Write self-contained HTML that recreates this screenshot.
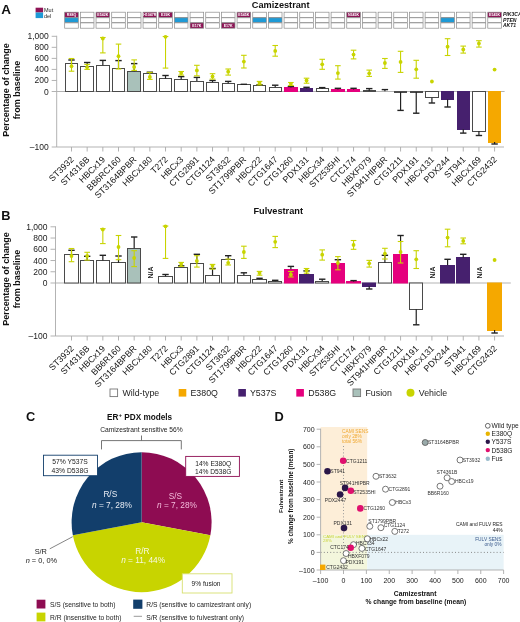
<!DOCTYPE html>
<html><head><meta charset="utf-8"><style>
html,body{margin:0;padding:0;background:#fff;}
body{width:520px;height:622px;overflow:hidden;font-family:"Liberation Sans", sans-serif;}
svg{display:block;filter:blur(0.3px);}
</style></head><body>
<svg width="520" height="622" viewBox="0 0 520 622" font-family='"Liberation Sans", sans-serif'>
<rect width="520" height="622" fill="#fff"/>
<text x="1.20" y="13.80" font-size="13.5" text-anchor="start" font-weight="bold" fill="#111">A</text>
<rect x="35.6" y="7.7" width="7.5" height="4.8" fill="#8e1456"/>
<rect x="35.6" y="12.5" width="7.5" height="5.6" fill="#1e9ad6"/>
<text x="44.00" y="12.10" font-size="5.5" text-anchor="start" fill="#222">Mut</text>
<text x="44.00" y="17.90" font-size="5.5" text-anchor="start" fill="#222">del</text>
<rect x="64.70" y="12.20" width="13.6" height="5.30" fill="#8e1456" stroke="#8a8a8a" stroke-width="0.7"/>
<text x="71.50" y="16.20" font-size="3.6" font-weight="bold" text-anchor="middle" fill="#fff">R88Q</text>
<rect x="64.70" y="17.80" width="13.6" height="4.80" fill="#1e9ad6" stroke="#8a8a8a" stroke-width="0.7"/>
<rect x="64.70" y="22.90" width="13.6" height="5.30" fill="#fff" stroke="#8a8a8a" stroke-width="0.7"/>
<rect x="80.37" y="12.20" width="13.6" height="5.30" fill="#fff" stroke="#8a8a8a" stroke-width="0.7"/>
<rect x="80.37" y="17.80" width="13.6" height="4.80" fill="#fff" stroke="#8a8a8a" stroke-width="0.7"/>
<rect x="80.37" y="22.90" width="13.6" height="5.30" fill="#fff" stroke="#8a8a8a" stroke-width="0.7"/>
<rect x="96.04" y="12.20" width="13.6" height="5.30" fill="#8e1456" stroke="#8a8a8a" stroke-width="0.7"/>
<text x="102.84" y="16.20" font-size="3.6" font-weight="bold" text-anchor="middle" fill="#fff">E542K</text>
<rect x="96.04" y="17.80" width="13.6" height="4.80" fill="#fff" stroke="#8a8a8a" stroke-width="0.7"/>
<rect x="96.04" y="22.90" width="13.6" height="5.30" fill="#fff" stroke="#8a8a8a" stroke-width="0.7"/>
<rect x="111.71" y="12.20" width="13.6" height="5.30" fill="#fff" stroke="#8a8a8a" stroke-width="0.7"/>
<rect x="111.71" y="17.80" width="13.6" height="4.80" fill="#fff" stroke="#8a8a8a" stroke-width="0.7"/>
<rect x="111.71" y="22.90" width="13.6" height="5.30" fill="#fff" stroke="#8a8a8a" stroke-width="0.7"/>
<rect x="127.38" y="12.20" width="13.6" height="5.30" fill="#fff" stroke="#8a8a8a" stroke-width="0.7"/>
<rect x="127.38" y="17.80" width="13.6" height="4.80" fill="#fff" stroke="#8a8a8a" stroke-width="0.7"/>
<rect x="127.38" y="22.90" width="13.6" height="5.30" fill="#fff" stroke="#8a8a8a" stroke-width="0.7"/>
<rect x="143.05" y="12.20" width="13.6" height="5.30" fill="#8e1456" stroke="#8a8a8a" stroke-width="0.7"/>
<text x="149.85" y="16.20" font-size="3.6" font-weight="bold" text-anchor="middle" fill="#fff">H1047R</text>
<rect x="143.05" y="17.80" width="13.6" height="4.80" fill="#fff" stroke="#8a8a8a" stroke-width="0.7"/>
<rect x="143.05" y="22.90" width="13.6" height="5.30" fill="#fff" stroke="#8a8a8a" stroke-width="0.7"/>
<rect x="158.72" y="12.20" width="13.6" height="5.30" fill="#8e1456" stroke="#8a8a8a" stroke-width="0.7"/>
<text x="165.52" y="16.20" font-size="3.6" font-weight="bold" text-anchor="middle" fill="#fff">E39K</text>
<rect x="158.72" y="17.80" width="13.6" height="4.80" fill="#fff" stroke="#8a8a8a" stroke-width="0.7"/>
<rect x="158.72" y="22.90" width="13.6" height="5.30" fill="#fff" stroke="#8a8a8a" stroke-width="0.7"/>
<rect x="174.39" y="12.20" width="13.6" height="5.30" fill="#fff" stroke="#8a8a8a" stroke-width="0.7"/>
<rect x="174.39" y="17.80" width="13.6" height="4.80" fill="#1e9ad6" stroke="#8a8a8a" stroke-width="0.7"/>
<rect x="174.39" y="22.90" width="13.6" height="5.30" fill="#fff" stroke="#8a8a8a" stroke-width="0.7"/>
<rect x="190.06" y="12.20" width="13.6" height="5.30" fill="#fff" stroke="#8a8a8a" stroke-width="0.7"/>
<rect x="190.06" y="17.80" width="13.6" height="4.80" fill="#fff" stroke="#8a8a8a" stroke-width="0.7"/>
<rect x="190.06" y="22.90" width="13.6" height="5.30" fill="#8e1456" stroke="#8a8a8a" stroke-width="0.7"/>
<text x="196.86" y="26.90" font-size="3.6" font-weight="bold" text-anchor="middle" fill="#fff">E17K</text>
<rect x="205.73" y="12.20" width="13.6" height="5.30" fill="#fff" stroke="#8a8a8a" stroke-width="0.7"/>
<rect x="205.73" y="17.80" width="13.6" height="4.80" fill="#fff" stroke="#8a8a8a" stroke-width="0.7"/>
<rect x="205.73" y="22.90" width="13.6" height="5.30" fill="#fff" stroke="#8a8a8a" stroke-width="0.7"/>
<rect x="221.40" y="12.20" width="13.6" height="5.30" fill="#fff" stroke="#8a8a8a" stroke-width="0.7"/>
<rect x="221.40" y="17.80" width="13.6" height="4.80" fill="#fff" stroke="#8a8a8a" stroke-width="0.7"/>
<rect x="221.40" y="22.90" width="13.6" height="5.30" fill="#8e1456" stroke="#8a8a8a" stroke-width="0.7"/>
<text x="228.20" y="26.90" font-size="3.6" font-weight="bold" text-anchor="middle" fill="#fff">E17K</text>
<rect x="237.07" y="12.20" width="13.6" height="5.30" fill="#8e1456" stroke="#8a8a8a" stroke-width="0.7"/>
<text x="243.87" y="16.20" font-size="3.6" font-weight="bold" text-anchor="middle" fill="#fff">E545K</text>
<rect x="237.07" y="17.80" width="13.6" height="4.80" fill="#fff" stroke="#8a8a8a" stroke-width="0.7"/>
<rect x="237.07" y="22.90" width="13.6" height="5.30" fill="#fff" stroke="#8a8a8a" stroke-width="0.7"/>
<rect x="252.74" y="12.20" width="13.6" height="5.30" fill="#fff" stroke="#8a8a8a" stroke-width="0.7"/>
<rect x="252.74" y="17.80" width="13.6" height="4.80" fill="#1e9ad6" stroke="#8a8a8a" stroke-width="0.7"/>
<rect x="252.74" y="22.90" width="13.6" height="5.30" fill="#fff" stroke="#8a8a8a" stroke-width="0.7"/>
<rect x="268.41" y="12.20" width="13.6" height="5.30" fill="#fff" stroke="#8a8a8a" stroke-width="0.7"/>
<rect x="268.41" y="17.80" width="13.6" height="4.80" fill="#1e9ad6" stroke="#8a8a8a" stroke-width="0.7"/>
<rect x="268.41" y="22.90" width="13.6" height="5.30" fill="#fff" stroke="#8a8a8a" stroke-width="0.7"/>
<rect x="284.08" y="12.20" width="13.6" height="5.30" fill="#fff" stroke="#8a8a8a" stroke-width="0.7"/>
<rect x="284.08" y="17.80" width="13.6" height="4.80" fill="#fff" stroke="#8a8a8a" stroke-width="0.7"/>
<rect x="284.08" y="22.90" width="13.6" height="5.30" fill="#fff" stroke="#8a8a8a" stroke-width="0.7"/>
<rect x="299.75" y="12.20" width="13.6" height="5.30" fill="#fff" stroke="#8a8a8a" stroke-width="0.7"/>
<rect x="299.75" y="17.80" width="13.6" height="4.80" fill="#fff" stroke="#8a8a8a" stroke-width="0.7"/>
<rect x="299.75" y="22.90" width="13.6" height="5.30" fill="#fff" stroke="#8a8a8a" stroke-width="0.7"/>
<rect x="315.42" y="12.20" width="13.6" height="5.30" fill="#fff" stroke="#8a8a8a" stroke-width="0.7"/>
<rect x="315.42" y="17.80" width="13.6" height="4.80" fill="#fff" stroke="#8a8a8a" stroke-width="0.7"/>
<rect x="315.42" y="22.90" width="13.6" height="5.30" fill="#fff" stroke="#8a8a8a" stroke-width="0.7"/>
<rect x="331.09" y="12.20" width="13.6" height="5.30" fill="#fff" stroke="#8a8a8a" stroke-width="0.7"/>
<rect x="331.09" y="17.80" width="13.6" height="4.80" fill="#fff" stroke="#8a8a8a" stroke-width="0.7"/>
<rect x="331.09" y="22.90" width="13.6" height="5.30" fill="#fff" stroke="#8a8a8a" stroke-width="0.7"/>
<rect x="346.76" y="12.20" width="13.6" height="5.30" fill="#8e1456" stroke="#8a8a8a" stroke-width="0.7"/>
<text x="353.56" y="16.20" font-size="3.6" font-weight="bold" text-anchor="middle" fill="#fff">N345K</text>
<rect x="346.76" y="17.80" width="13.6" height="4.80" fill="#fff" stroke="#8a8a8a" stroke-width="0.7"/>
<rect x="346.76" y="22.90" width="13.6" height="5.30" fill="#fff" stroke="#8a8a8a" stroke-width="0.7"/>
<rect x="362.43" y="12.20" width="13.6" height="5.30" fill="#fff" stroke="#8a8a8a" stroke-width="0.7"/>
<rect x="362.43" y="17.80" width="13.6" height="4.80" fill="#fff" stroke="#8a8a8a" stroke-width="0.7"/>
<rect x="362.43" y="22.90" width="13.6" height="5.30" fill="#fff" stroke="#8a8a8a" stroke-width="0.7"/>
<rect x="378.10" y="12.20" width="13.6" height="5.30" fill="#fff" stroke="#8a8a8a" stroke-width="0.7"/>
<rect x="378.10" y="17.80" width="13.6" height="4.80" fill="#fff" stroke="#8a8a8a" stroke-width="0.7"/>
<rect x="378.10" y="22.90" width="13.6" height="5.30" fill="#fff" stroke="#8a8a8a" stroke-width="0.7"/>
<rect x="393.77" y="12.20" width="13.6" height="5.30" fill="#fff" stroke="#8a8a8a" stroke-width="0.7"/>
<rect x="393.77" y="17.80" width="13.6" height="4.80" fill="#fff" stroke="#8a8a8a" stroke-width="0.7"/>
<rect x="393.77" y="22.90" width="13.6" height="5.30" fill="#fff" stroke="#8a8a8a" stroke-width="0.7"/>
<rect x="409.44" y="12.20" width="13.6" height="5.30" fill="#fff" stroke="#8a8a8a" stroke-width="0.7"/>
<rect x="409.44" y="17.80" width="13.6" height="4.80" fill="#fff" stroke="#8a8a8a" stroke-width="0.7"/>
<rect x="409.44" y="22.90" width="13.6" height="5.30" fill="#fff" stroke="#8a8a8a" stroke-width="0.7"/>
<rect x="425.11" y="12.20" width="13.6" height="5.30" fill="#fff" stroke="#8a8a8a" stroke-width="0.7"/>
<rect x="425.11" y="17.80" width="13.6" height="4.80" fill="#fff" stroke="#8a8a8a" stroke-width="0.7"/>
<rect x="425.11" y="22.90" width="13.6" height="5.30" fill="#fff" stroke="#8a8a8a" stroke-width="0.7"/>
<rect x="440.78" y="12.20" width="13.6" height="5.30" fill="#fff" stroke="#8a8a8a" stroke-width="0.7"/>
<rect x="440.78" y="17.80" width="13.6" height="4.80" fill="#1e9ad6" stroke="#8a8a8a" stroke-width="0.7"/>
<rect x="440.78" y="22.90" width="13.6" height="5.30" fill="#fff" stroke="#8a8a8a" stroke-width="0.7"/>
<rect x="456.45" y="12.20" width="13.6" height="5.30" fill="#fff" stroke="#8a8a8a" stroke-width="0.7"/>
<rect x="456.45" y="17.80" width="13.6" height="4.80" fill="#fff" stroke="#8a8a8a" stroke-width="0.7"/>
<rect x="456.45" y="22.90" width="13.6" height="5.30" fill="#fff" stroke="#8a8a8a" stroke-width="0.7"/>
<rect x="472.12" y="12.20" width="13.6" height="5.30" fill="#fff" stroke="#8a8a8a" stroke-width="0.7"/>
<rect x="472.12" y="17.80" width="13.6" height="4.80" fill="#fff" stroke="#8a8a8a" stroke-width="0.7"/>
<rect x="472.12" y="22.90" width="13.6" height="5.30" fill="#fff" stroke="#8a8a8a" stroke-width="0.7"/>
<rect x="487.79" y="12.20" width="13.6" height="5.30" fill="#8e1456" stroke="#8a8a8a" stroke-width="0.7"/>
<text x="494.59" y="16.20" font-size="3.6" font-weight="bold" text-anchor="middle" fill="#fff">E545K</text>
<rect x="487.79" y="17.80" width="13.6" height="4.80" fill="#fff" stroke="#8a8a8a" stroke-width="0.7"/>
<rect x="487.79" y="22.90" width="13.6" height="5.30" fill="#fff" stroke="#8a8a8a" stroke-width="0.7"/>
<text x="502.9" y="16.0" font-size="5.1" font-weight="bold" font-style="italic" fill="#111">PIK3CA</text>
<text x="502.9" y="21.6" font-size="5.1" font-weight="bold" font-style="italic" fill="#111">PTEN</text>
<text x="502.9" y="27.3" font-size="5.1" font-weight="bold" font-style="italic" fill="#111">AKT1</text>
<line x1="56.7" y1="35.8" x2="56.7" y2="147.0" stroke="#aaa" stroke-width="0.9"/>
<line x1="51.7" y1="36.30" x2="56.7" y2="36.30" stroke="#aaa" stroke-width="0.9"/>
<text x="48.70" y="39.30" font-size="8.5" text-anchor="end" fill="#222">1,000</text>
<line x1="51.7" y1="47.34" x2="56.7" y2="47.34" stroke="#aaa" stroke-width="0.9"/>
<text x="48.70" y="50.34" font-size="8.5" text-anchor="end" fill="#222">800</text>
<line x1="51.7" y1="58.38" x2="56.7" y2="58.38" stroke="#aaa" stroke-width="0.9"/>
<text x="48.70" y="61.38" font-size="8.5" text-anchor="end" fill="#222">600</text>
<line x1="51.7" y1="69.42" x2="56.7" y2="69.42" stroke="#aaa" stroke-width="0.9"/>
<text x="48.70" y="72.42" font-size="8.5" text-anchor="end" fill="#222">400</text>
<line x1="51.7" y1="80.46" x2="56.7" y2="80.46" stroke="#aaa" stroke-width="0.9"/>
<text x="48.70" y="83.46" font-size="8.5" text-anchor="end" fill="#222">200</text>
<line x1="51.7" y1="91.50" x2="56.7" y2="91.50" stroke="#aaa" stroke-width="0.9"/>
<text x="48.70" y="94.50" font-size="8.5" text-anchor="end" fill="#222">0</text>
<line x1="51.7" y1="147.0" x2="56.7" y2="147.0" stroke="#aaa" stroke-width="0.9"/>
<text x="48.70" y="150.00" font-size="8.5" text-anchor="end" fill="#222">–100</text>
<line x1="56.7" y1="91.5" x2="504.6" y2="91.5" stroke="#aaa" stroke-width="0.9"/>
<line x1="56.7" y1="147.0" x2="504" y2="147.0" stroke="#aaa" stroke-width="0.9"/>
<line x1="71.50" y1="147.0" x2="71.50" y2="151.5" stroke="#aaa" stroke-width="0.9"/>
<line x1="87.17" y1="147.0" x2="87.17" y2="151.5" stroke="#aaa" stroke-width="0.9"/>
<line x1="102.84" y1="147.0" x2="102.84" y2="151.5" stroke="#aaa" stroke-width="0.9"/>
<line x1="118.51" y1="147.0" x2="118.51" y2="151.5" stroke="#aaa" stroke-width="0.9"/>
<line x1="134.18" y1="147.0" x2="134.18" y2="151.5" stroke="#aaa" stroke-width="0.9"/>
<line x1="149.85" y1="147.0" x2="149.85" y2="151.5" stroke="#aaa" stroke-width="0.9"/>
<line x1="165.52" y1="147.0" x2="165.52" y2="151.5" stroke="#aaa" stroke-width="0.9"/>
<line x1="181.19" y1="147.0" x2="181.19" y2="151.5" stroke="#aaa" stroke-width="0.9"/>
<line x1="196.86" y1="147.0" x2="196.86" y2="151.5" stroke="#aaa" stroke-width="0.9"/>
<line x1="212.53" y1="147.0" x2="212.53" y2="151.5" stroke="#aaa" stroke-width="0.9"/>
<line x1="228.20" y1="147.0" x2="228.20" y2="151.5" stroke="#aaa" stroke-width="0.9"/>
<line x1="243.87" y1="147.0" x2="243.87" y2="151.5" stroke="#aaa" stroke-width="0.9"/>
<line x1="259.54" y1="147.0" x2="259.54" y2="151.5" stroke="#aaa" stroke-width="0.9"/>
<line x1="275.21" y1="147.0" x2="275.21" y2="151.5" stroke="#aaa" stroke-width="0.9"/>
<line x1="290.88" y1="147.0" x2="290.88" y2="151.5" stroke="#aaa" stroke-width="0.9"/>
<line x1="306.55" y1="147.0" x2="306.55" y2="151.5" stroke="#aaa" stroke-width="0.9"/>
<line x1="322.22" y1="147.0" x2="322.22" y2="151.5" stroke="#aaa" stroke-width="0.9"/>
<line x1="337.89" y1="147.0" x2="337.89" y2="151.5" stroke="#aaa" stroke-width="0.9"/>
<line x1="353.56" y1="147.0" x2="353.56" y2="151.5" stroke="#aaa" stroke-width="0.9"/>
<line x1="369.23" y1="147.0" x2="369.23" y2="151.5" stroke="#aaa" stroke-width="0.9"/>
<line x1="384.90" y1="147.0" x2="384.90" y2="151.5" stroke="#aaa" stroke-width="0.9"/>
<line x1="400.57" y1="147.0" x2="400.57" y2="151.5" stroke="#aaa" stroke-width="0.9"/>
<line x1="416.24" y1="147.0" x2="416.24" y2="151.5" stroke="#aaa" stroke-width="0.9"/>
<line x1="431.91" y1="147.0" x2="431.91" y2="151.5" stroke="#aaa" stroke-width="0.9"/>
<line x1="447.58" y1="147.0" x2="447.58" y2="151.5" stroke="#aaa" stroke-width="0.9"/>
<line x1="463.25" y1="147.0" x2="463.25" y2="151.5" stroke="#aaa" stroke-width="0.9"/>
<line x1="478.92" y1="147.0" x2="478.92" y2="151.5" stroke="#aaa" stroke-width="0.9"/>
<line x1="494.59" y1="147.0" x2="494.59" y2="151.5" stroke="#aaa" stroke-width="0.9"/>
<rect x="65.50" y="63.50" width="12.00" height="28.00" fill="#ffffff" stroke="#4a4a4a" stroke-width="1"/>
<line x1="71.50" y1="63.10" x2="71.50" y2="60.00" stroke="#222" stroke-width="1.2"/>
<line x1="68.30" y1="60.00" x2="74.70" y2="60.00" stroke="#222" stroke-width="1.4"/>
<rect x="80.50" y="66.50" width="13.00" height="25.00" fill="#ffffff" stroke="#4a4a4a" stroke-width="1"/>
<line x1="87.17" y1="66.20" x2="87.17" y2="62.50" stroke="#222" stroke-width="1.2"/>
<line x1="83.97" y1="62.50" x2="90.37" y2="62.50" stroke="#222" stroke-width="1.4"/>
<rect x="96.50" y="65.50" width="13.00" height="26.00" fill="#ffffff" stroke="#4a4a4a" stroke-width="1"/>
<line x1="102.84" y1="65.20" x2="102.84" y2="60.40" stroke="#222" stroke-width="1.2"/>
<line x1="99.64" y1="60.40" x2="106.04" y2="60.40" stroke="#222" stroke-width="1.4"/>
<rect x="112.50" y="68.50" width="12.00" height="23.00" fill="#ffffff" stroke="#4a4a4a" stroke-width="1"/>
<line x1="118.51" y1="68.10" x2="118.51" y2="60.60" stroke="#222" stroke-width="1.2"/>
<line x1="115.31" y1="60.60" x2="121.71" y2="60.60" stroke="#222" stroke-width="1.4"/>
<rect x="127.50" y="71.50" width="13.00" height="20.00" fill="#a9c1ba" stroke="#4a4a4a" stroke-width="1"/>
<line x1="134.18" y1="71.30" x2="134.18" y2="63.60" stroke="#222" stroke-width="1.2"/>
<line x1="130.98" y1="63.60" x2="137.38" y2="63.60" stroke="#222" stroke-width="1.4"/>
<rect x="143.50" y="73.50" width="13.00" height="18.00" fill="#ffffff" stroke="#4a4a4a" stroke-width="1"/>
<line x1="149.85" y1="73.30" x2="149.85" y2="72.20" stroke="#222" stroke-width="1.2"/>
<line x1="146.65" y1="72.20" x2="153.05" y2="72.20" stroke="#222" stroke-width="1.4"/>
<rect x="159.50" y="78.50" width="12.00" height="13.00" fill="#ffffff" stroke="#4a4a4a" stroke-width="1"/>
<line x1="165.52" y1="78.70" x2="165.52" y2="75.50" stroke="#222" stroke-width="1.2"/>
<line x1="162.32" y1="75.50" x2="168.72" y2="75.50" stroke="#222" stroke-width="1.4"/>
<rect x="174.50" y="79.50" width="13.00" height="12.00" fill="#ffffff" stroke="#4a4a4a" stroke-width="1"/>
<line x1="181.19" y1="79.40" x2="181.19" y2="76.60" stroke="#222" stroke-width="1.2"/>
<line x1="177.99" y1="76.60" x2="184.39" y2="76.60" stroke="#222" stroke-width="1.4"/>
<rect x="190.50" y="81.50" width="13.00" height="10.00" fill="#ffffff" stroke="#4a4a4a" stroke-width="1"/>
<line x1="196.86" y1="81.10" x2="196.86" y2="77.40" stroke="#222" stroke-width="1.2"/>
<line x1="193.66" y1="77.40" x2="200.06" y2="77.40" stroke="#222" stroke-width="1.4"/>
<rect x="206.50" y="82.50" width="12.00" height="9.00" fill="#ffffff" stroke="#4a4a4a" stroke-width="1"/>
<line x1="212.53" y1="82.20" x2="212.53" y2="80.50" stroke="#222" stroke-width="1.2"/>
<line x1="209.33" y1="80.50" x2="215.73" y2="80.50" stroke="#222" stroke-width="1.4"/>
<rect x="222.50" y="83.50" width="12.00" height="8.00" fill="#ffffff" stroke="#4a4a4a" stroke-width="1"/>
<line x1="228.20" y1="83.20" x2="228.20" y2="81.40" stroke="#222" stroke-width="1.2"/>
<line x1="225.00" y1="81.40" x2="231.40" y2="81.40" stroke="#222" stroke-width="1.4"/>
<rect x="237.50" y="84.50" width="13.00" height="7.00" fill="#ffffff" stroke="#4a4a4a" stroke-width="1"/>
<line x1="243.87" y1="84.90" x2="243.87" y2="84.30" stroke="#222" stroke-width="1.2"/>
<line x1="240.67" y1="84.30" x2="247.07" y2="84.30" stroke="#222" stroke-width="1.4"/>
<rect x="253.50" y="85.50" width="12.00" height="6.00" fill="#ffffff" stroke="#4a4a4a" stroke-width="1"/>
<line x1="259.54" y1="85.20" x2="259.54" y2="84.80" stroke="#222" stroke-width="1.2"/>
<line x1="256.34" y1="84.80" x2="262.74" y2="84.80" stroke="#222" stroke-width="1.4"/>
<rect x="269.50" y="87.50" width="12.00" height="4.00" fill="#ffffff" stroke="#4a4a4a" stroke-width="1"/>
<line x1="275.21" y1="87.20" x2="275.21" y2="85.20" stroke="#222" stroke-width="1.2"/>
<line x1="272.01" y1="85.20" x2="278.41" y2="85.20" stroke="#222" stroke-width="1.4"/>
<rect x="284.50" y="87.50" width="13.00" height="4.00" fill="#e5007d" stroke="#e5007d" stroke-width="1"/>
<line x1="290.88" y1="87.40" x2="290.88" y2="86.50" stroke="#222" stroke-width="1.2"/>
<line x1="287.68" y1="86.50" x2="294.08" y2="86.50" stroke="#222" stroke-width="1.4"/>
<rect x="300.50" y="88.50" width="12.00" height="3.00" fill="#46206e" stroke="#46206e" stroke-width="1"/>
<line x1="306.55" y1="88.50" x2="306.55" y2="87.30" stroke="#222" stroke-width="1.2"/>
<line x1="303.35" y1="87.30" x2="309.75" y2="87.30" stroke="#222" stroke-width="1.4"/>
<rect x="316.50" y="88.50" width="12.00" height="3.00" fill="#ffffff" stroke="#4a4a4a" stroke-width="1"/>
<line x1="322.22" y1="88.80" x2="322.22" y2="87.60" stroke="#222" stroke-width="1.2"/>
<line x1="319.02" y1="87.60" x2="325.42" y2="87.60" stroke="#222" stroke-width="1.4"/>
<rect x="331.50" y="89.50" width="13.00" height="2.00" fill="#e5007d" stroke="#e5007d" stroke-width="1"/>
<line x1="337.89" y1="89.50" x2="337.89" y2="88.30" stroke="#222" stroke-width="1.2"/>
<line x1="334.69" y1="88.30" x2="341.09" y2="88.30" stroke="#222" stroke-width="1.4"/>
<rect x="347.50" y="89.50" width="12.00" height="2.00" fill="#e5007d" stroke="#e5007d" stroke-width="1"/>
<line x1="353.56" y1="89.50" x2="353.56" y2="88.30" stroke="#222" stroke-width="1.2"/>
<line x1="350.36" y1="88.30" x2="356.76" y2="88.30" stroke="#222" stroke-width="1.4"/>
<rect x="363.50" y="90.50" width="12.00" height="1.00" fill="#ffffff" stroke="#4a4a4a" stroke-width="1"/>
<line x1="369.23" y1="91.00" x2="369.23" y2="88.60" stroke="#222" stroke-width="1.2"/>
<line x1="366.03" y1="88.60" x2="372.43" y2="88.60" stroke="#222" stroke-width="1.4"/>
<line x1="384.90" y1="91.20" x2="384.90" y2="89.60" stroke="#222" stroke-width="1.2"/>
<line x1="381.70" y1="89.60" x2="388.10" y2="89.60" stroke="#222" stroke-width="1.4"/>
<rect x="394.50" y="91.50" width="12.00" height="1.00" fill="#ffffff" stroke="#4a4a4a" stroke-width="1"/>
<line x1="400.57" y1="92.00" x2="400.57" y2="110.40" stroke="#222" stroke-width="1.2"/>
<line x1="397.37" y1="110.40" x2="403.77" y2="110.40" stroke="#222" stroke-width="1.4"/>
<rect x="410.50" y="91.50" width="12.00" height="1.00" fill="#ffffff" stroke="#4a4a4a" stroke-width="1"/>
<line x1="416.24" y1="92.00" x2="416.24" y2="113.20" stroke="#222" stroke-width="1.2"/>
<line x1="413.04" y1="113.20" x2="419.44" y2="113.20" stroke="#222" stroke-width="1.4"/>
<rect x="425.50" y="91.50" width="13.00" height="6.00" fill="#ffffff" stroke="#4a4a4a" stroke-width="1"/>
<line x1="431.91" y1="97.70" x2="431.91" y2="103.00" stroke="#222" stroke-width="1.2"/>
<line x1="428.71" y1="103.00" x2="435.11" y2="103.00" stroke="#222" stroke-width="1.4"/>
<rect x="441.50" y="91.50" width="12.00" height="8.00" fill="#46206e" stroke="#46206e" stroke-width="1"/>
<line x1="447.58" y1="99.40" x2="447.58" y2="107.00" stroke="#222" stroke-width="1.2"/>
<line x1="444.38" y1="107.00" x2="450.78" y2="107.00" stroke="#222" stroke-width="1.4"/>
<rect x="457.50" y="91.50" width="12.00" height="38.00" fill="#46206e" stroke="#46206e" stroke-width="1"/>
<line x1="463.25" y1="129.20" x2="463.25" y2="133.10" stroke="#222" stroke-width="1.2"/>
<line x1="460.05" y1="133.10" x2="466.45" y2="133.10" stroke="#222" stroke-width="1.4"/>
<rect x="472.50" y="91.50" width="13.00" height="40.00" fill="#ffffff" stroke="#4a4a4a" stroke-width="1"/>
<line x1="478.92" y1="131.10" x2="478.92" y2="135.50" stroke="#222" stroke-width="1.2"/>
<line x1="475.72" y1="135.50" x2="482.12" y2="135.50" stroke="#222" stroke-width="1.4"/>
<rect x="488.50" y="91.50" width="12.00" height="51.00" fill="#f5a800" stroke="#f5a800" stroke-width="1"/>
<line x1="494.59" y1="142.00" x2="494.59" y2="144.00" stroke="#222" stroke-width="1.2"/>
<line x1="491.39" y1="144.00" x2="497.79" y2="144.00" stroke="#222" stroke-width="1.4"/>
<line x1="71.50" y1="58.50" x2="71.50" y2="71.20" stroke="#c8d400" stroke-width="1.1"/>
<line x1="68.70" y1="58.50" x2="74.30" y2="58.50" stroke="#c8d400" stroke-width="1.1"/>
<line x1="68.70" y1="71.20" x2="74.30" y2="71.20" stroke="#c8d400" stroke-width="1.1"/>
<circle cx="71.50" cy="66.20" r="1.9" fill="#c8d400"/>
<line x1="87.17" y1="64.40" x2="87.17" y2="69.40" stroke="#c8d400" stroke-width="1.1"/>
<line x1="84.37" y1="64.40" x2="89.97" y2="64.40" stroke="#c8d400" stroke-width="1.1"/>
<line x1="84.37" y1="69.40" x2="89.97" y2="69.40" stroke="#c8d400" stroke-width="1.1"/>
<circle cx="87.17" cy="67.20" r="1.9" fill="#c8d400"/>
<line x1="102.84" y1="37.50" x2="102.84" y2="52.90" stroke="#c8d400" stroke-width="1.1"/>
<line x1="100.04" y1="37.50" x2="105.64" y2="37.50" stroke="#c8d400" stroke-width="1.1"/>
<line x1="100.04" y1="52.90" x2="105.64" y2="52.90" stroke="#c8d400" stroke-width="1.1"/>
<circle cx="102.84" cy="38.50" r="1.9" fill="#c8d400"/>
<line x1="118.51" y1="44.10" x2="118.51" y2="69.00" stroke="#c8d400" stroke-width="1.1"/>
<line x1="115.71" y1="44.10" x2="121.31" y2="44.10" stroke="#c8d400" stroke-width="1.1"/>
<line x1="115.71" y1="69.00" x2="121.31" y2="69.00" stroke="#c8d400" stroke-width="1.1"/>
<circle cx="118.51" cy="56.20" r="1.9" fill="#c8d400"/>
<line x1="134.18" y1="59.90" x2="134.18" y2="70.40" stroke="#c8d400" stroke-width="1.1"/>
<line x1="131.38" y1="59.90" x2="136.98" y2="59.90" stroke="#c8d400" stroke-width="1.1"/>
<line x1="131.38" y1="70.40" x2="136.98" y2="70.40" stroke="#c8d400" stroke-width="1.1"/>
<circle cx="134.18" cy="67.00" r="1.9" fill="#c8d400"/>
<line x1="149.85" y1="72.40" x2="149.85" y2="79.40" stroke="#c8d400" stroke-width="1.1"/>
<line x1="147.05" y1="72.40" x2="152.65" y2="72.40" stroke="#c8d400" stroke-width="1.1"/>
<line x1="147.05" y1="79.40" x2="152.65" y2="79.40" stroke="#c8d400" stroke-width="1.1"/>
<circle cx="149.85" cy="77.00" r="1.9" fill="#c8d400"/>
<line x1="165.52" y1="36.50" x2="165.52" y2="68.10" stroke="#c8d400" stroke-width="1.1"/>
<line x1="162.72" y1="36.50" x2="168.32" y2="36.50" stroke="#c8d400" stroke-width="1.1"/>
<line x1="162.72" y1="68.10" x2="168.32" y2="68.10" stroke="#c8d400" stroke-width="1.1"/>
<circle cx="165.52" cy="36.80" r="1.9" fill="#c8d400"/>
<line x1="181.19" y1="71.50" x2="181.19" y2="75.10" stroke="#c8d400" stroke-width="1.1"/>
<line x1="178.39" y1="71.50" x2="183.99" y2="71.50" stroke="#c8d400" stroke-width="1.1"/>
<line x1="178.39" y1="75.10" x2="183.99" y2="75.10" stroke="#c8d400" stroke-width="1.1"/>
<circle cx="181.19" cy="73.00" r="1.9" fill="#c8d400"/>
<line x1="196.86" y1="65.30" x2="196.86" y2="75.80" stroke="#c8d400" stroke-width="1.1"/>
<line x1="194.06" y1="65.30" x2="199.66" y2="65.30" stroke="#c8d400" stroke-width="1.1"/>
<line x1="194.06" y1="75.80" x2="199.66" y2="75.80" stroke="#c8d400" stroke-width="1.1"/>
<circle cx="196.86" cy="70.40" r="1.9" fill="#c8d400"/>
<line x1="212.53" y1="73.70" x2="212.53" y2="79.10" stroke="#c8d400" stroke-width="1.1"/>
<line x1="209.73" y1="73.70" x2="215.33" y2="73.70" stroke="#c8d400" stroke-width="1.1"/>
<line x1="209.73" y1="79.10" x2="215.33" y2="79.10" stroke="#c8d400" stroke-width="1.1"/>
<circle cx="212.53" cy="76.40" r="1.9" fill="#c8d400"/>
<line x1="228.20" y1="69.00" x2="228.20" y2="75.10" stroke="#c8d400" stroke-width="1.1"/>
<line x1="225.40" y1="69.00" x2="231.00" y2="69.00" stroke="#c8d400" stroke-width="1.1"/>
<line x1="225.40" y1="75.10" x2="231.00" y2="75.10" stroke="#c8d400" stroke-width="1.1"/>
<circle cx="228.20" cy="71.70" r="1.9" fill="#c8d400"/>
<line x1="243.87" y1="55.30" x2="243.87" y2="68.00" stroke="#c8d400" stroke-width="1.1"/>
<line x1="241.07" y1="55.30" x2="246.67" y2="55.30" stroke="#c8d400" stroke-width="1.1"/>
<line x1="241.07" y1="68.00" x2="246.67" y2="68.00" stroke="#c8d400" stroke-width="1.1"/>
<circle cx="243.87" cy="61.60" r="1.9" fill="#c8d400"/>
<line x1="259.54" y1="81.40" x2="259.54" y2="84.90" stroke="#c8d400" stroke-width="1.1"/>
<line x1="256.74" y1="81.40" x2="262.34" y2="81.40" stroke="#c8d400" stroke-width="1.1"/>
<line x1="256.74" y1="84.90" x2="262.34" y2="84.90" stroke="#c8d400" stroke-width="1.1"/>
<circle cx="259.54" cy="83.00" r="1.9" fill="#c8d400"/>
<line x1="275.21" y1="45.50" x2="275.21" y2="56.20" stroke="#c8d400" stroke-width="1.1"/>
<line x1="272.41" y1="45.50" x2="278.01" y2="45.50" stroke="#c8d400" stroke-width="1.1"/>
<line x1="272.41" y1="56.20" x2="278.01" y2="56.20" stroke="#c8d400" stroke-width="1.1"/>
<circle cx="275.21" cy="50.90" r="1.9" fill="#c8d400"/>
<line x1="290.88" y1="82.50" x2="290.88" y2="85.50" stroke="#c8d400" stroke-width="1.1"/>
<line x1="288.08" y1="82.50" x2="293.68" y2="82.50" stroke="#c8d400" stroke-width="1.1"/>
<line x1="288.08" y1="85.50" x2="293.68" y2="85.50" stroke="#c8d400" stroke-width="1.1"/>
<circle cx="290.88" cy="83.80" r="1.9" fill="#c8d400"/>
<line x1="306.55" y1="78.20" x2="306.55" y2="83.20" stroke="#c8d400" stroke-width="1.1"/>
<line x1="303.75" y1="78.20" x2="309.35" y2="78.20" stroke="#c8d400" stroke-width="1.1"/>
<line x1="303.75" y1="83.20" x2="309.35" y2="83.20" stroke="#c8d400" stroke-width="1.1"/>
<circle cx="306.55" cy="80.50" r="1.9" fill="#c8d400"/>
<line x1="322.22" y1="59.30" x2="322.22" y2="69.30" stroke="#c8d400" stroke-width="1.1"/>
<line x1="319.42" y1="59.30" x2="325.02" y2="59.30" stroke="#c8d400" stroke-width="1.1"/>
<line x1="319.42" y1="69.30" x2="325.02" y2="69.30" stroke="#c8d400" stroke-width="1.1"/>
<circle cx="322.22" cy="64.30" r="1.9" fill="#c8d400"/>
<line x1="337.89" y1="65.70" x2="337.89" y2="79.10" stroke="#c8d400" stroke-width="1.1"/>
<line x1="335.09" y1="65.70" x2="340.69" y2="65.70" stroke="#c8d400" stroke-width="1.1"/>
<line x1="335.09" y1="79.10" x2="340.69" y2="79.10" stroke="#c8d400" stroke-width="1.1"/>
<circle cx="337.89" cy="73.10" r="1.9" fill="#c8d400"/>
<line x1="353.56" y1="50.20" x2="353.56" y2="58.90" stroke="#c8d400" stroke-width="1.1"/>
<line x1="350.76" y1="50.20" x2="356.36" y2="50.20" stroke="#c8d400" stroke-width="1.1"/>
<line x1="350.76" y1="58.90" x2="356.36" y2="58.90" stroke="#c8d400" stroke-width="1.1"/>
<circle cx="353.56" cy="54.60" r="1.9" fill="#c8d400"/>
<line x1="369.23" y1="70.10" x2="369.23" y2="76.40" stroke="#c8d400" stroke-width="1.1"/>
<line x1="366.43" y1="70.10" x2="372.03" y2="70.10" stroke="#c8d400" stroke-width="1.1"/>
<line x1="366.43" y1="76.40" x2="372.03" y2="76.40" stroke="#c8d400" stroke-width="1.1"/>
<circle cx="369.23" cy="73.30" r="1.9" fill="#c8d400"/>
<line x1="384.90" y1="58.50" x2="384.90" y2="68.40" stroke="#c8d400" stroke-width="1.1"/>
<line x1="382.10" y1="58.50" x2="387.70" y2="58.50" stroke="#c8d400" stroke-width="1.1"/>
<line x1="382.10" y1="68.40" x2="387.70" y2="68.40" stroke="#c8d400" stroke-width="1.1"/>
<circle cx="384.90" cy="63.00" r="1.9" fill="#c8d400"/>
<line x1="400.57" y1="51.30" x2="400.57" y2="72.40" stroke="#c8d400" stroke-width="1.1"/>
<line x1="397.77" y1="51.30" x2="403.37" y2="51.30" stroke="#c8d400" stroke-width="1.1"/>
<line x1="397.77" y1="72.40" x2="403.37" y2="72.40" stroke="#c8d400" stroke-width="1.1"/>
<circle cx="400.57" cy="61.90" r="1.9" fill="#c8d400"/>
<line x1="416.24" y1="60.30" x2="416.24" y2="78.20" stroke="#c8d400" stroke-width="1.1"/>
<line x1="413.44" y1="60.30" x2="419.04" y2="60.30" stroke="#c8d400" stroke-width="1.1"/>
<line x1="413.44" y1="78.20" x2="419.04" y2="78.20" stroke="#c8d400" stroke-width="1.1"/>
<circle cx="416.24" cy="69.30" r="1.9" fill="#c8d400"/>
<circle cx="431.91" cy="81.50" r="1.9" fill="#c8d400"/>
<line x1="447.58" y1="38.70" x2="447.58" y2="55.50" stroke="#c8d400" stroke-width="1.1"/>
<line x1="444.78" y1="38.70" x2="450.38" y2="38.70" stroke="#c8d400" stroke-width="1.1"/>
<line x1="444.78" y1="55.50" x2="450.38" y2="55.50" stroke="#c8d400" stroke-width="1.1"/>
<circle cx="447.58" cy="46.70" r="1.9" fill="#c8d400"/>
<line x1="463.25" y1="46.10" x2="463.25" y2="53.10" stroke="#c8d400" stroke-width="1.1"/>
<line x1="460.45" y1="46.10" x2="466.05" y2="46.10" stroke="#c8d400" stroke-width="1.1"/>
<line x1="460.45" y1="53.10" x2="466.05" y2="53.10" stroke="#c8d400" stroke-width="1.1"/>
<circle cx="463.25" cy="49.50" r="1.9" fill="#c8d400"/>
<line x1="478.92" y1="40.70" x2="478.92" y2="47.10" stroke="#c8d400" stroke-width="1.1"/>
<line x1="476.12" y1="40.70" x2="481.72" y2="40.70" stroke="#c8d400" stroke-width="1.1"/>
<line x1="476.12" y1="47.10" x2="481.72" y2="47.10" stroke="#c8d400" stroke-width="1.1"/>
<circle cx="478.92" cy="43.50" r="1.9" fill="#c8d400"/>
<circle cx="494.59" cy="69.60" r="1.9" fill="#c8d400"/>
<text transform="translate(74.40,160.1) rotate(-45)" font-size="8.8" text-anchor="end" fill="#111">ST3932</text>
<text transform="translate(90.07,160.1) rotate(-45)" font-size="8.8" text-anchor="end" fill="#111">ST4316B</text>
<text transform="translate(105.74,160.1) rotate(-45)" font-size="8.8" text-anchor="end" fill="#111">HBCx19</text>
<text transform="translate(121.41,160.1) rotate(-45)" font-size="8.8" text-anchor="end" fill="#111">BB6RC160</text>
<text transform="translate(137.08,160.1) rotate(-45)" font-size="8.8" text-anchor="end" fill="#111">ST3164BPBR</text>
<text transform="translate(152.75,160.1) rotate(-45)" font-size="8.8" text-anchor="end" fill="#111">HBCx180</text>
<text transform="translate(168.42,160.1) rotate(-45)" font-size="8.8" text-anchor="end" fill="#111">T272</text>
<text transform="translate(184.09,160.1) rotate(-45)" font-size="8.8" text-anchor="end" fill="#111">HBCx3</text>
<text transform="translate(199.76,160.1) rotate(-45)" font-size="8.8" text-anchor="end" fill="#111">CTG2891</text>
<text transform="translate(215.43,160.1) rotate(-45)" font-size="8.8" text-anchor="end" fill="#111">CTG1124</text>
<text transform="translate(231.10,160.1) rotate(-45)" font-size="8.8" text-anchor="end" fill="#111">ST3632</text>
<text transform="translate(246.77,160.1) rotate(-45)" font-size="8.8" text-anchor="end" fill="#111">ST1799PBR</text>
<text transform="translate(262.44,160.1) rotate(-45)" font-size="8.8" text-anchor="end" fill="#111">HBCx22</text>
<text transform="translate(278.11,160.1) rotate(-45)" font-size="8.8" text-anchor="end" fill="#111">CTG1647</text>
<text transform="translate(293.78,160.1) rotate(-45)" font-size="8.8" text-anchor="end" fill="#111">CTG1260</text>
<text transform="translate(309.45,160.1) rotate(-45)" font-size="8.8" text-anchor="end" fill="#111">PDX131</text>
<text transform="translate(325.12,160.1) rotate(-45)" font-size="8.8" text-anchor="end" fill="#111">HBCx34</text>
<text transform="translate(340.79,160.1) rotate(-45)" font-size="8.8" text-anchor="end" fill="#111">ST2535HI</text>
<text transform="translate(356.46,160.1) rotate(-45)" font-size="8.8" text-anchor="end" fill="#111">CTC174</text>
<text transform="translate(372.13,160.1) rotate(-45)" font-size="8.8" text-anchor="end" fill="#111">HBXF079</text>
<text transform="translate(387.80,160.1) rotate(-45)" font-size="8.8" text-anchor="end" fill="#111">ST941HIPBR</text>
<text transform="translate(403.47,160.1) rotate(-45)" font-size="8.8" text-anchor="end" fill="#111">CTG1211</text>
<text transform="translate(419.14,160.1) rotate(-45)" font-size="8.8" text-anchor="end" fill="#111">PDX191</text>
<text transform="translate(434.81,160.1) rotate(-45)" font-size="8.8" text-anchor="end" fill="#111">HBCx131</text>
<text transform="translate(450.48,160.1) rotate(-45)" font-size="8.8" text-anchor="end" fill="#111">PDX244</text>
<text transform="translate(466.15,160.1) rotate(-45)" font-size="8.8" text-anchor="end" fill="#111">ST941</text>
<text transform="translate(481.82,160.1) rotate(-45)" font-size="8.8" text-anchor="end" fill="#111">HBCx169</text>
<text transform="translate(497.49,160.1) rotate(-45)" font-size="8.8" text-anchor="end" fill="#111">CTG2432</text>
<text x="280.70" y="7.90" font-size="9.2" text-anchor="middle" font-weight="bold" fill="#111">Camizestrant</text>
<text transform="translate(9.3,90) rotate(-90)" font-size="9" font-weight="bold" text-anchor="middle" fill="#111">Percentage of change</text>
<text transform="translate(19.8,90) rotate(-90)" font-size="9" font-weight="bold" text-anchor="middle" fill="#111">from baseline</text>
<text x="1.20" y="220.00" font-size="12.8" text-anchor="start" font-weight="bold" fill="#111">B</text>
<line x1="55.5" y1="226.3" x2="55.5" y2="336.0" stroke="#aaa" stroke-width="0.9"/>
<line x1="50.5" y1="226.80" x2="55.5" y2="226.80" stroke="#aaa" stroke-width="0.9"/>
<text x="47.50" y="229.80" font-size="8.5" text-anchor="end" fill="#222">1,000</text>
<line x1="50.5" y1="238.04" x2="55.5" y2="238.04" stroke="#aaa" stroke-width="0.9"/>
<text x="47.50" y="241.04" font-size="8.5" text-anchor="end" fill="#222">800</text>
<line x1="50.5" y1="249.28" x2="55.5" y2="249.28" stroke="#aaa" stroke-width="0.9"/>
<text x="47.50" y="252.28" font-size="8.5" text-anchor="end" fill="#222">600</text>
<line x1="50.5" y1="260.52" x2="55.5" y2="260.52" stroke="#aaa" stroke-width="0.9"/>
<text x="47.50" y="263.52" font-size="8.5" text-anchor="end" fill="#222">400</text>
<line x1="50.5" y1="271.76" x2="55.5" y2="271.76" stroke="#aaa" stroke-width="0.9"/>
<text x="47.50" y="274.76" font-size="8.5" text-anchor="end" fill="#222">200</text>
<line x1="50.5" y1="283.00" x2="55.5" y2="283.00" stroke="#aaa" stroke-width="0.9"/>
<text x="47.50" y="286.00" font-size="8.5" text-anchor="end" fill="#222">0</text>
<line x1="50.5" y1="336.0" x2="55.5" y2="336.0" stroke="#aaa" stroke-width="0.9"/>
<text x="47.50" y="339.00" font-size="8.5" text-anchor="end" fill="#222">–100</text>
<line x1="55.5" y1="283.0" x2="510.8" y2="283.0" stroke="#aaa" stroke-width="0.9"/>
<line x1="55.5" y1="336.0" x2="504" y2="336.0" stroke="#aaa" stroke-width="0.9"/>
<line x1="71.50" y1="336.0" x2="71.50" y2="340.5" stroke="#aaa" stroke-width="0.9"/>
<line x1="87.17" y1="336.0" x2="87.17" y2="340.5" stroke="#aaa" stroke-width="0.9"/>
<line x1="102.84" y1="336.0" x2="102.84" y2="340.5" stroke="#aaa" stroke-width="0.9"/>
<line x1="118.51" y1="336.0" x2="118.51" y2="340.5" stroke="#aaa" stroke-width="0.9"/>
<line x1="134.18" y1="336.0" x2="134.18" y2="340.5" stroke="#aaa" stroke-width="0.9"/>
<line x1="149.85" y1="336.0" x2="149.85" y2="340.5" stroke="#aaa" stroke-width="0.9"/>
<line x1="165.52" y1="336.0" x2="165.52" y2="340.5" stroke="#aaa" stroke-width="0.9"/>
<line x1="181.19" y1="336.0" x2="181.19" y2="340.5" stroke="#aaa" stroke-width="0.9"/>
<line x1="196.86" y1="336.0" x2="196.86" y2="340.5" stroke="#aaa" stroke-width="0.9"/>
<line x1="212.53" y1="336.0" x2="212.53" y2="340.5" stroke="#aaa" stroke-width="0.9"/>
<line x1="228.20" y1="336.0" x2="228.20" y2="340.5" stroke="#aaa" stroke-width="0.9"/>
<line x1="243.87" y1="336.0" x2="243.87" y2="340.5" stroke="#aaa" stroke-width="0.9"/>
<line x1="259.54" y1="336.0" x2="259.54" y2="340.5" stroke="#aaa" stroke-width="0.9"/>
<line x1="275.21" y1="336.0" x2="275.21" y2="340.5" stroke="#aaa" stroke-width="0.9"/>
<line x1="290.88" y1="336.0" x2="290.88" y2="340.5" stroke="#aaa" stroke-width="0.9"/>
<line x1="306.55" y1="336.0" x2="306.55" y2="340.5" stroke="#aaa" stroke-width="0.9"/>
<line x1="322.22" y1="336.0" x2="322.22" y2="340.5" stroke="#aaa" stroke-width="0.9"/>
<line x1="337.89" y1="336.0" x2="337.89" y2="340.5" stroke="#aaa" stroke-width="0.9"/>
<line x1="353.56" y1="336.0" x2="353.56" y2="340.5" stroke="#aaa" stroke-width="0.9"/>
<line x1="369.23" y1="336.0" x2="369.23" y2="340.5" stroke="#aaa" stroke-width="0.9"/>
<line x1="384.90" y1="336.0" x2="384.90" y2="340.5" stroke="#aaa" stroke-width="0.9"/>
<line x1="400.57" y1="336.0" x2="400.57" y2="340.5" stroke="#aaa" stroke-width="0.9"/>
<line x1="416.24" y1="336.0" x2="416.24" y2="340.5" stroke="#aaa" stroke-width="0.9"/>
<line x1="431.91" y1="336.0" x2="431.91" y2="340.5" stroke="#aaa" stroke-width="0.9"/>
<line x1="447.58" y1="336.0" x2="447.58" y2="340.5" stroke="#aaa" stroke-width="0.9"/>
<line x1="463.25" y1="336.0" x2="463.25" y2="340.5" stroke="#aaa" stroke-width="0.9"/>
<line x1="478.92" y1="336.0" x2="478.92" y2="340.5" stroke="#aaa" stroke-width="0.9"/>
<line x1="494.59" y1="336.0" x2="494.59" y2="340.5" stroke="#aaa" stroke-width="0.9"/>
<rect x="64.50" y="254.50" width="14.00" height="28.50" fill="#ffffff" stroke="#4a4a4a" stroke-width="1"/>
<line x1="71.50" y1="254.00" x2="71.50" y2="250.30" stroke="#222" stroke-width="1.2"/>
<line x1="68.30" y1="250.30" x2="74.70" y2="250.30" stroke="#222" stroke-width="1.4"/>
<rect x="80.50" y="260.50" width="13.00" height="22.50" fill="#ffffff" stroke="#4a4a4a" stroke-width="1"/>
<line x1="87.17" y1="260.00" x2="87.17" y2="256.30" stroke="#222" stroke-width="1.2"/>
<line x1="83.97" y1="256.30" x2="90.37" y2="256.30" stroke="#222" stroke-width="1.4"/>
<rect x="96.50" y="260.50" width="13.00" height="22.50" fill="#ffffff" stroke="#4a4a4a" stroke-width="1"/>
<line x1="102.84" y1="260.40" x2="102.84" y2="255.30" stroke="#222" stroke-width="1.2"/>
<line x1="99.64" y1="255.30" x2="106.04" y2="255.30" stroke="#222" stroke-width="1.4"/>
<rect x="111.50" y="262.50" width="14.00" height="20.50" fill="#ffffff" stroke="#4a4a4a" stroke-width="1"/>
<line x1="118.51" y1="262.80" x2="118.51" y2="256.00" stroke="#222" stroke-width="1.2"/>
<line x1="115.31" y1="256.00" x2="121.71" y2="256.00" stroke="#222" stroke-width="1.4"/>
<rect x="127.50" y="248.50" width="13.00" height="34.50" fill="#a9c1ba" stroke="#4a4a4a" stroke-width="1"/>
<line x1="134.18" y1="248.30" x2="134.18" y2="237.00" stroke="#222" stroke-width="1.2"/>
<line x1="130.98" y1="237.00" x2="137.38" y2="237.00" stroke="#222" stroke-width="1.4"/>
<text transform="translate(152.65,278.5) rotate(-90)" font-size="7" font-weight="bold" fill="#222">N/A</text>
<rect x="158.50" y="276.50" width="14.00" height="6.50" fill="#ffffff" stroke="#4a4a4a" stroke-width="1"/>
<line x1="165.52" y1="276.30" x2="165.52" y2="274.50" stroke="#222" stroke-width="1.2"/>
<line x1="162.32" y1="274.50" x2="168.72" y2="274.50" stroke="#222" stroke-width="1.4"/>
<rect x="174.50" y="267.50" width="13.00" height="15.50" fill="#ffffff" stroke="#4a4a4a" stroke-width="1"/>
<line x1="181.19" y1="267.10" x2="181.19" y2="265.80" stroke="#222" stroke-width="1.2"/>
<line x1="177.99" y1="265.80" x2="184.39" y2="265.80" stroke="#222" stroke-width="1.4"/>
<rect x="190.50" y="263.50" width="13.00" height="19.50" fill="#ffffff" stroke="#4a4a4a" stroke-width="1"/>
<line x1="196.86" y1="263.30" x2="196.86" y2="254.30" stroke="#222" stroke-width="1.2"/>
<line x1="193.66" y1="254.30" x2="200.06" y2="254.30" stroke="#222" stroke-width="1.4"/>
<rect x="205.50" y="275.50" width="14.00" height="7.50" fill="#ffffff" stroke="#4a4a4a" stroke-width="1"/>
<line x1="212.53" y1="275.20" x2="212.53" y2="268.50" stroke="#222" stroke-width="1.2"/>
<line x1="209.33" y1="268.50" x2="215.73" y2="268.50" stroke="#222" stroke-width="1.4"/>
<rect x="221.50" y="259.50" width="13.00" height="23.50" fill="#ffffff" stroke="#4a4a4a" stroke-width="1"/>
<line x1="228.20" y1="259.30" x2="228.20" y2="255.70" stroke="#222" stroke-width="1.2"/>
<line x1="225.00" y1="255.70" x2="231.40" y2="255.70" stroke="#222" stroke-width="1.4"/>
<rect x="237.50" y="275.50" width="13.00" height="7.50" fill="#ffffff" stroke="#4a4a4a" stroke-width="1"/>
<line x1="243.87" y1="275.20" x2="243.87" y2="272.80" stroke="#222" stroke-width="1.2"/>
<line x1="240.67" y1="272.80" x2="247.07" y2="272.80" stroke="#222" stroke-width="1.4"/>
<rect x="252.50" y="279.50" width="14.00" height="3.50" fill="#ffffff" stroke="#4a4a4a" stroke-width="1"/>
<line x1="259.54" y1="279.20" x2="259.54" y2="278.30" stroke="#222" stroke-width="1.2"/>
<line x1="256.34" y1="278.30" x2="262.74" y2="278.30" stroke="#222" stroke-width="1.4"/>
<rect x="268.50" y="281.50" width="13.00" height="1.50" fill="#ffffff" stroke="#4a4a4a" stroke-width="1"/>
<line x1="275.21" y1="281.20" x2="275.21" y2="280.30" stroke="#222" stroke-width="1.2"/>
<line x1="272.01" y1="280.30" x2="278.41" y2="280.30" stroke="#222" stroke-width="1.4"/>
<rect x="284.50" y="269.50" width="13.00" height="13.50" fill="#e5007d" stroke="#e5007d" stroke-width="1"/>
<line x1="290.88" y1="269.30" x2="290.88" y2="266.40" stroke="#222" stroke-width="1.2"/>
<line x1="287.68" y1="266.40" x2="294.08" y2="266.40" stroke="#222" stroke-width="1.4"/>
<rect x="299.50" y="274.50" width="14.00" height="8.50" fill="#46206e" stroke="#46206e" stroke-width="1"/>
<line x1="306.55" y1="274.10" x2="306.55" y2="270.90" stroke="#222" stroke-width="1.2"/>
<line x1="303.35" y1="270.90" x2="309.75" y2="270.90" stroke="#222" stroke-width="1.4"/>
<rect x="315.50" y="281.50" width="13.00" height="1.50" fill="#ffffff" stroke="#4a4a4a" stroke-width="1"/>
<line x1="322.22" y1="281.20" x2="322.22" y2="279.20" stroke="#222" stroke-width="1.2"/>
<line x1="319.02" y1="279.20" x2="325.42" y2="279.20" stroke="#222" stroke-width="1.4"/>
<rect x="331.50" y="263.50" width="13.00" height="19.50" fill="#e5007d" stroke="#e5007d" stroke-width="1"/>
<line x1="337.89" y1="263.10" x2="337.89" y2="259.70" stroke="#222" stroke-width="1.2"/>
<line x1="334.69" y1="259.70" x2="341.09" y2="259.70" stroke="#222" stroke-width="1.4"/>
<rect x="346.50" y="281.50" width="14.00" height="1.50" fill="#e5007d" stroke="#e5007d" stroke-width="1"/>
<line x1="353.56" y1="281.60" x2="353.56" y2="280.60" stroke="#222" stroke-width="1.2"/>
<line x1="350.36" y1="280.60" x2="356.76" y2="280.60" stroke="#222" stroke-width="1.4"/>
<rect x="362.50" y="283.00" width="13.00" height="3.50" fill="#46206e" stroke="#46206e" stroke-width="1"/>
<line x1="369.23" y1="286.30" x2="369.23" y2="289.00" stroke="#222" stroke-width="1.2"/>
<line x1="366.03" y1="289.00" x2="372.43" y2="289.00" stroke="#222" stroke-width="1.4"/>
<rect x="378.50" y="262.50" width="13.00" height="20.50" fill="#ffffff" stroke="#4a4a4a" stroke-width="1"/>
<line x1="384.90" y1="262.80" x2="384.90" y2="255.30" stroke="#222" stroke-width="1.2"/>
<line x1="381.70" y1="255.30" x2="388.10" y2="255.30" stroke="#222" stroke-width="1.4"/>
<rect x="393.50" y="254.50" width="14.00" height="28.50" fill="#e5007d" stroke="#e5007d" stroke-width="1"/>
<line x1="400.57" y1="254.30" x2="400.57" y2="235.50" stroke="#222" stroke-width="1.2"/>
<line x1="397.37" y1="235.50" x2="403.77" y2="235.50" stroke="#222" stroke-width="1.4"/>
<rect x="409.50" y="283.00" width="13.00" height="26.50" fill="#ffffff" stroke="#4a4a4a" stroke-width="1"/>
<line x1="416.24" y1="309.20" x2="416.24" y2="324.80" stroke="#222" stroke-width="1.2"/>
<line x1="413.04" y1="324.80" x2="419.44" y2="324.80" stroke="#222" stroke-width="1.4"/>
<text transform="translate(434.71,278.5) rotate(-90)" font-size="7" font-weight="bold" fill="#222">N/A</text>
<rect x="440.50" y="265.50" width="14.00" height="17.50" fill="#46206e" stroke="#46206e" stroke-width="1"/>
<line x1="447.58" y1="265.20" x2="447.58" y2="259.30" stroke="#222" stroke-width="1.2"/>
<line x1="444.38" y1="259.30" x2="450.78" y2="259.30" stroke="#222" stroke-width="1.4"/>
<rect x="456.50" y="257.50" width="13.00" height="25.50" fill="#46206e" stroke="#46206e" stroke-width="1"/>
<line x1="463.25" y1="257.80" x2="463.25" y2="254.30" stroke="#222" stroke-width="1.2"/>
<line x1="460.05" y1="254.30" x2="466.45" y2="254.30" stroke="#222" stroke-width="1.4"/>
<text transform="translate(481.72,278.5) rotate(-90)" font-size="7" font-weight="bold" fill="#222">N/A</text>
<rect x="487.50" y="283.00" width="14.00" height="47.50" fill="#f5a800" stroke="#f5a800" stroke-width="1"/>
<line x1="494.59" y1="330.00" x2="494.59" y2="333.00" stroke="#222" stroke-width="1.2"/>
<line x1="491.39" y1="333.00" x2="497.79" y2="333.00" stroke="#222" stroke-width="1.4"/>
<line x1="71.50" y1="248.50" x2="71.50" y2="261.70" stroke="#c8d400" stroke-width="1.1"/>
<line x1="68.70" y1="248.50" x2="74.30" y2="248.50" stroke="#c8d400" stroke-width="1.1"/>
<line x1="68.70" y1="261.70" x2="74.30" y2="261.70" stroke="#c8d400" stroke-width="1.1"/>
<circle cx="71.50" cy="256.00" r="1.9" fill="#c8d400"/>
<line x1="87.17" y1="252.30" x2="87.17" y2="260.10" stroke="#c8d400" stroke-width="1.1"/>
<line x1="84.37" y1="252.30" x2="89.97" y2="252.30" stroke="#c8d400" stroke-width="1.1"/>
<line x1="84.37" y1="260.10" x2="89.97" y2="260.10" stroke="#c8d400" stroke-width="1.1"/>
<circle cx="87.17" cy="256.00" r="1.9" fill="#c8d400"/>
<line x1="102.84" y1="228.70" x2="102.84" y2="243.60" stroke="#c8d400" stroke-width="1.1"/>
<line x1="100.04" y1="228.70" x2="105.64" y2="228.70" stroke="#c8d400" stroke-width="1.1"/>
<line x1="100.04" y1="243.60" x2="105.64" y2="243.60" stroke="#c8d400" stroke-width="1.1"/>
<circle cx="102.84" cy="229.50" r="1.9" fill="#c8d400"/>
<line x1="118.51" y1="235.50" x2="118.51" y2="259.70" stroke="#c8d400" stroke-width="1.1"/>
<line x1="115.71" y1="235.50" x2="121.31" y2="235.50" stroke="#c8d400" stroke-width="1.1"/>
<line x1="115.71" y1="259.70" x2="121.31" y2="259.70" stroke="#c8d400" stroke-width="1.1"/>
<circle cx="118.51" cy="247.00" r="1.9" fill="#c8d400"/>
<line x1="134.18" y1="250.70" x2="134.18" y2="266.60" stroke="#c8d400" stroke-width="1.1"/>
<line x1="131.38" y1="250.70" x2="136.98" y2="250.70" stroke="#c8d400" stroke-width="1.1"/>
<line x1="131.38" y1="266.60" x2="136.98" y2="266.60" stroke="#c8d400" stroke-width="1.1"/>
<circle cx="134.18" cy="258.00" r="1.9" fill="#c8d400"/>
<line x1="165.52" y1="226.00" x2="165.52" y2="258.40" stroke="#c8d400" stroke-width="1.1"/>
<line x1="162.72" y1="226.00" x2="168.32" y2="226.00" stroke="#c8d400" stroke-width="1.1"/>
<line x1="162.72" y1="258.40" x2="168.32" y2="258.40" stroke="#c8d400" stroke-width="1.1"/>
<circle cx="165.52" cy="226.30" r="1.9" fill="#c8d400"/>
<line x1="181.19" y1="262.40" x2="181.19" y2="266.40" stroke="#c8d400" stroke-width="1.1"/>
<line x1="178.39" y1="262.40" x2="183.99" y2="262.40" stroke="#c8d400" stroke-width="1.1"/>
<line x1="178.39" y1="266.40" x2="183.99" y2="266.40" stroke="#c8d400" stroke-width="1.1"/>
<circle cx="181.19" cy="264.00" r="1.9" fill="#c8d400"/>
<line x1="196.86" y1="255.70" x2="196.86" y2="267.10" stroke="#c8d400" stroke-width="1.1"/>
<line x1="194.06" y1="255.70" x2="199.66" y2="255.70" stroke="#c8d400" stroke-width="1.1"/>
<line x1="194.06" y1="267.10" x2="199.66" y2="267.10" stroke="#c8d400" stroke-width="1.1"/>
<circle cx="196.86" cy="261.00" r="1.9" fill="#c8d400"/>
<line x1="212.53" y1="264.40" x2="212.53" y2="269.10" stroke="#c8d400" stroke-width="1.1"/>
<line x1="209.73" y1="264.40" x2="215.33" y2="264.40" stroke="#c8d400" stroke-width="1.1"/>
<line x1="209.73" y1="269.10" x2="215.33" y2="269.10" stroke="#c8d400" stroke-width="1.1"/>
<circle cx="212.53" cy="265.80" r="1.9" fill="#c8d400"/>
<line x1="228.20" y1="259.00" x2="228.20" y2="265.00" stroke="#c8d400" stroke-width="1.1"/>
<line x1="225.40" y1="259.00" x2="231.00" y2="259.00" stroke="#c8d400" stroke-width="1.1"/>
<line x1="225.40" y1="265.00" x2="231.00" y2="265.00" stroke="#c8d400" stroke-width="1.1"/>
<circle cx="228.20" cy="262.80" r="1.9" fill="#c8d400"/>
<line x1="243.87" y1="246.20" x2="243.87" y2="258.40" stroke="#c8d400" stroke-width="1.1"/>
<line x1="241.07" y1="246.20" x2="246.67" y2="246.20" stroke="#c8d400" stroke-width="1.1"/>
<line x1="241.07" y1="258.40" x2="246.67" y2="258.40" stroke="#c8d400" stroke-width="1.1"/>
<circle cx="243.87" cy="252.00" r="1.9" fill="#c8d400"/>
<line x1="259.54" y1="271.40" x2="259.54" y2="275.20" stroke="#c8d400" stroke-width="1.1"/>
<line x1="256.74" y1="271.40" x2="262.34" y2="271.40" stroke="#c8d400" stroke-width="1.1"/>
<line x1="256.74" y1="275.20" x2="262.34" y2="275.20" stroke="#c8d400" stroke-width="1.1"/>
<circle cx="259.54" cy="273.00" r="1.9" fill="#c8d400"/>
<line x1="275.21" y1="236.40" x2="275.21" y2="247.60" stroke="#c8d400" stroke-width="1.1"/>
<line x1="272.41" y1="236.40" x2="278.01" y2="236.40" stroke="#c8d400" stroke-width="1.1"/>
<line x1="272.41" y1="247.60" x2="278.01" y2="247.60" stroke="#c8d400" stroke-width="1.1"/>
<circle cx="275.21" cy="241.80" r="1.9" fill="#c8d400"/>
<line x1="290.88" y1="271.50" x2="290.88" y2="277.00" stroke="#c8d400" stroke-width="1.1"/>
<line x1="288.08" y1="271.50" x2="293.68" y2="271.50" stroke="#c8d400" stroke-width="1.1"/>
<line x1="288.08" y1="277.00" x2="293.68" y2="277.00" stroke="#c8d400" stroke-width="1.1"/>
<circle cx="290.88" cy="274.50" r="1.9" fill="#c8d400"/>
<line x1="306.55" y1="268.50" x2="306.55" y2="273.20" stroke="#c8d400" stroke-width="1.1"/>
<line x1="303.75" y1="268.50" x2="309.35" y2="268.50" stroke="#c8d400" stroke-width="1.1"/>
<line x1="303.75" y1="273.20" x2="309.35" y2="273.20" stroke="#c8d400" stroke-width="1.1"/>
<circle cx="306.55" cy="270.50" r="1.9" fill="#c8d400"/>
<line x1="322.22" y1="249.90" x2="322.22" y2="260.10" stroke="#c8d400" stroke-width="1.1"/>
<line x1="319.42" y1="249.90" x2="325.02" y2="249.90" stroke="#c8d400" stroke-width="1.1"/>
<line x1="319.42" y1="260.10" x2="325.02" y2="260.10" stroke="#c8d400" stroke-width="1.1"/>
<circle cx="322.22" cy="254.70" r="1.9" fill="#c8d400"/>
<line x1="337.89" y1="256.60" x2="337.89" y2="269.80" stroke="#c8d400" stroke-width="1.1"/>
<line x1="335.09" y1="256.60" x2="340.69" y2="256.60" stroke="#c8d400" stroke-width="1.1"/>
<line x1="335.09" y1="269.80" x2="340.69" y2="269.80" stroke="#c8d400" stroke-width="1.1"/>
<circle cx="337.89" cy="263.00" r="1.9" fill="#c8d400"/>
<line x1="353.56" y1="240.50" x2="353.56" y2="249.30" stroke="#c8d400" stroke-width="1.1"/>
<line x1="350.76" y1="240.50" x2="356.36" y2="240.50" stroke="#c8d400" stroke-width="1.1"/>
<line x1="350.76" y1="249.30" x2="356.36" y2="249.30" stroke="#c8d400" stroke-width="1.1"/>
<circle cx="353.56" cy="244.90" r="1.9" fill="#c8d400"/>
<line x1="369.23" y1="260.40" x2="369.23" y2="267.10" stroke="#c8d400" stroke-width="1.1"/>
<line x1="366.43" y1="260.40" x2="372.03" y2="260.40" stroke="#c8d400" stroke-width="1.1"/>
<line x1="366.43" y1="267.10" x2="372.03" y2="267.10" stroke="#c8d400" stroke-width="1.1"/>
<circle cx="369.23" cy="263.30" r="1.9" fill="#c8d400"/>
<line x1="384.90" y1="248.30" x2="384.90" y2="259.00" stroke="#c8d400" stroke-width="1.1"/>
<line x1="382.10" y1="248.30" x2="387.70" y2="248.30" stroke="#c8d400" stroke-width="1.1"/>
<line x1="382.10" y1="259.00" x2="387.70" y2="259.00" stroke="#c8d400" stroke-width="1.1"/>
<circle cx="384.90" cy="253.60" r="1.9" fill="#c8d400"/>
<line x1="400.57" y1="241.50" x2="400.57" y2="263.00" stroke="#c8d400" stroke-width="1.1"/>
<line x1="397.77" y1="241.50" x2="403.37" y2="241.50" stroke="#c8d400" stroke-width="1.1"/>
<line x1="397.77" y1="263.00" x2="403.37" y2="263.00" stroke="#c8d400" stroke-width="1.1"/>
<circle cx="400.57" cy="252.00" r="1.9" fill="#c8d400"/>
<line x1="416.24" y1="250.70" x2="416.24" y2="268.50" stroke="#c8d400" stroke-width="1.1"/>
<line x1="413.44" y1="250.70" x2="419.04" y2="250.70" stroke="#c8d400" stroke-width="1.1"/>
<line x1="413.44" y1="268.50" x2="419.04" y2="268.50" stroke="#c8d400" stroke-width="1.1"/>
<circle cx="416.24" cy="259.30" r="1.9" fill="#c8d400"/>
<line x1="447.58" y1="229.20" x2="447.58" y2="246.80" stroke="#c8d400" stroke-width="1.1"/>
<line x1="444.78" y1="229.20" x2="450.38" y2="229.20" stroke="#c8d400" stroke-width="1.1"/>
<line x1="444.78" y1="246.80" x2="450.38" y2="246.80" stroke="#c8d400" stroke-width="1.1"/>
<circle cx="447.58" cy="237.60" r="1.9" fill="#c8d400"/>
<line x1="463.25" y1="238.00" x2="463.25" y2="243.80" stroke="#c8d400" stroke-width="1.1"/>
<line x1="460.45" y1="238.00" x2="466.05" y2="238.00" stroke="#c8d400" stroke-width="1.1"/>
<line x1="460.45" y1="243.80" x2="466.05" y2="243.80" stroke="#c8d400" stroke-width="1.1"/>
<circle cx="463.25" cy="240.90" r="1.9" fill="#c8d400"/>
<circle cx="494.59" cy="260.00" r="1.9" fill="#c8d400"/>
<text transform="translate(74.40,349.1) rotate(-45)" font-size="8.8" text-anchor="end" fill="#111">ST3932</text>
<text transform="translate(90.07,349.1) rotate(-45)" font-size="8.8" text-anchor="end" fill="#111">ST4316B</text>
<text transform="translate(105.74,349.1) rotate(-45)" font-size="8.8" text-anchor="end" fill="#111">HBCx19</text>
<text transform="translate(121.41,349.1) rotate(-45)" font-size="8.8" text-anchor="end" fill="#111">BB6R160</text>
<text transform="translate(137.08,349.1) rotate(-45)" font-size="8.8" text-anchor="end" fill="#111">ST3164BPBR</text>
<text transform="translate(152.75,349.1) rotate(-45)" font-size="8.8" text-anchor="end" fill="#111">HBCx180</text>
<text transform="translate(168.42,349.1) rotate(-45)" font-size="8.8" text-anchor="end" fill="#111">T272</text>
<text transform="translate(184.09,349.1) rotate(-45)" font-size="8.8" text-anchor="end" fill="#111">HBCx3</text>
<text transform="translate(199.76,349.1) rotate(-45)" font-size="8.8" text-anchor="end" fill="#111">CTG2891</text>
<text transform="translate(215.43,349.1) rotate(-45)" font-size="8.8" text-anchor="end" fill="#111">CTG1124</text>
<text transform="translate(231.10,349.1) rotate(-45)" font-size="8.8" text-anchor="end" fill="#111">ST3632</text>
<text transform="translate(246.77,349.1) rotate(-45)" font-size="8.8" text-anchor="end" fill="#111">ST1799PBR</text>
<text transform="translate(262.44,349.1) rotate(-45)" font-size="8.8" text-anchor="end" fill="#111">HBCx22</text>
<text transform="translate(278.11,349.1) rotate(-45)" font-size="8.8" text-anchor="end" fill="#111">CTG1647</text>
<text transform="translate(293.78,349.1) rotate(-45)" font-size="8.8" text-anchor="end" fill="#111">CTG1260</text>
<text transform="translate(309.45,349.1) rotate(-45)" font-size="8.8" text-anchor="end" fill="#111">PDX131</text>
<text transform="translate(325.12,349.1) rotate(-45)" font-size="8.8" text-anchor="end" fill="#111">HBCx34</text>
<text transform="translate(340.79,349.1) rotate(-45)" font-size="8.8" text-anchor="end" fill="#111">ST2535HI</text>
<text transform="translate(356.46,349.1) rotate(-45)" font-size="8.8" text-anchor="end" fill="#111">CTC174</text>
<text transform="translate(372.13,349.1) rotate(-45)" font-size="8.8" text-anchor="end" fill="#111">HBXF079</text>
<text transform="translate(387.80,349.1) rotate(-45)" font-size="8.8" text-anchor="end" fill="#111">ST941HIPBR</text>
<text transform="translate(403.47,349.1) rotate(-45)" font-size="8.8" text-anchor="end" fill="#111">CTG1211</text>
<text transform="translate(419.14,349.1) rotate(-45)" font-size="8.8" text-anchor="end" fill="#111">PDX191</text>
<text transform="translate(434.81,349.1) rotate(-45)" font-size="8.8" text-anchor="end" fill="#111">HBCx131</text>
<text transform="translate(450.48,349.1) rotate(-45)" font-size="8.8" text-anchor="end" fill="#111">PDX244</text>
<text transform="translate(466.15,349.1) rotate(-45)" font-size="8.8" text-anchor="end" fill="#111">ST941</text>
<text transform="translate(481.82,349.1) rotate(-45)" font-size="8.8" text-anchor="end" fill="#111">HBCx169</text>
<text transform="translate(497.49,349.1) rotate(-45)" font-size="8.8" text-anchor="end" fill="#111">CTG2432</text>
<text x="278.20" y="213.70" font-size="9.2" text-anchor="middle" font-weight="bold" fill="#111">Fulvestrant</text>
<text transform="translate(9.3,279) rotate(-90)" font-size="9" font-weight="bold" text-anchor="middle" fill="#111">Percentage of change</text>
<text transform="translate(19.8,279) rotate(-90)" font-size="9" font-weight="bold" text-anchor="middle" fill="#111">from baseline</text>
<rect x="110" y="389.0" width="7.6" height="7.6" fill="#fff" stroke="#777" stroke-width="0.9"/>
<text x="122.50" y="395.90" font-size="8.8" text-anchor="start" fill="#222">Wild-type</text>
<rect x="178.7" y="389.0" width="7.6" height="7.6" fill="#f5a800"/>
<text x="190.50" y="395.90" font-size="8.8" text-anchor="start" fill="#222">E380Q</text>
<rect x="238.3" y="389.0" width="7.6" height="7.6" fill="#46206e"/>
<text x="250.00" y="395.90" font-size="8.8" text-anchor="start" fill="#222">Y537S</text>
<rect x="296.3" y="389.0" width="7.6" height="7.6" fill="#e5007d"/>
<text x="308.30" y="395.90" font-size="8.8" text-anchor="start" fill="#222">D538G</text>
<rect x="353" y="389.0" width="7.6" height="7.6" fill="#a9c1ba" stroke="#777" stroke-width="0.9"/>
<text x="365.50" y="395.90" font-size="8.8" text-anchor="start" fill="#222">Fusion</text>
<circle cx="410.5" cy="392.8" r="4" fill="#c8d400"/>
<text x="418.80" y="395.90" font-size="8.8" text-anchor="start" fill="#222">Vehicle</text>
<text x="26.00" y="420.50" font-size="12.8" text-anchor="start" font-weight="bold" fill="#111">C</text>
<text x="139.6" y="420" font-size="8.2" font-weight="bold" text-anchor="middle" fill="#111">ER<tspan font-size="6" dy="-3.2">+</tspan><tspan dy="3.2"> PDX models</tspan></text>
<text x="141.50" y="431.80" font-size="6.7" text-anchor="middle" fill="#222">Camizestrant sensitive 56%</text>
<path d="M101.5,449.4 V440.6 H181.3 V449.4 M141.5,440.6 V435.5" fill="none" stroke="#666" stroke-width="0.9"/>
<path d="M141.6,522.2 L141.60,452.20 A70.0,70.0 0 0 1 210.36,535.32 Z" fill="#8e0c52"/>
<path d="M141.6,522.2 L210.36,535.32 A70.0,70.0 0 0 1 72.84,535.32 Z" fill="#c8d400"/>
<path d="M141.6,522.2 L72.84,535.32 A70.0,70.0 0 0 1 141.60,452.20 Z" fill="#123e6b"/>
<rect x="43.5" y="455.2" width="54" height="20.5" fill="#fff" stroke="#123e6b" stroke-width="0.9"/>
<text x="70.00" y="464.40" font-size="6.75" text-anchor="middle" fill="#222">57% Y537S</text>
<text x="70.00" y="472.60" font-size="6.75" text-anchor="middle" fill="#222">43% D538G</text>
<rect x="185.7" y="456.4" width="53.7" height="20" fill="#fff" stroke="#8e0c52" stroke-width="0.9"/>
<text x="213.20" y="466.00" font-size="6.7" text-anchor="middle" fill="#222">14% E380Q</text>
<text x="213.20" y="474.40" font-size="6.7" text-anchor="middle" fill="#222">14% D538G</text>
<rect x="182.3" y="573.8" width="49.7" height="19.2" fill="#fff" stroke="#d7df70" stroke-width="0.9"/>
<text x="206.00" y="585.50" font-size="6.6" text-anchor="middle" fill="#222">9% fusion</text>
<text x="110.30" y="497.00" font-size="8.3" text-anchor="middle" fill="#e8ecf4">R/S</text>
<text x="112" y="507.5" font-size="8.3" text-anchor="middle" fill="#e8ecf4"><tspan font-style="italic">n</tspan> = 7, 28%</text>
<text x="175.40" y="498.50" font-size="8.3" text-anchor="middle" fill="#f4bcdc">S/S</text>
<text x="177" y="508" font-size="8.3" text-anchor="middle" fill="#f4bcdc"><tspan font-style="italic">n</tspan> = 7, 28%</text>
<text x="142.40" y="553.80" font-size="8.3" text-anchor="middle" fill="#f8fae0">R/R</text>
<text x="143.1" y="563.2" font-size="8.3" text-anchor="middle" fill="#f8fae0"><tspan font-style="italic">n</tspan> = 11, 44%</text>
<line x1="49.8" y1="548.8" x2="72.7" y2="536.7" stroke="#666" stroke-width="0.8"/>
<text x="40.80" y="553.60" font-size="7.4" text-anchor="middle" fill="#222">S/R</text>
<text x="41.4" y="563" font-size="7.4" text-anchor="middle" fill="#222"><tspan font-style="italic">n</tspan> = 0, 0%</text>
<rect x="36.6" y="599.7" width="8.8" height="8.8" fill="#8e0c52"/>
<text x="50.00" y="607.30" font-size="6.7" text-anchor="start" fill="#222">S/S (sensitive to both)</text>
<rect x="36.6" y="612.6" width="8.8" height="8.8" fill="#c8d400"/>
<text x="50.00" y="620.00" font-size="6.7" text-anchor="start" fill="#222">R/R (insensitive to both)</text>
<rect x="133.2" y="599.6" width="9.2" height="9.2" fill="#123e6b"/>
<text x="146.30" y="607.00" font-size="6.7" text-anchor="start" fill="#222">R/S (sensitive to camizestrant only)</text>
<line x1="133.7" y1="616.3" x2="142" y2="616.3" stroke="#999" stroke-width="1"/>
<text x="146.30" y="619.50" font-size="6.7" text-anchor="start" fill="#222">S/R (sensitive to fulvestrant only)</text>
<text x="274.40" y="421.30" font-size="12.8" text-anchor="start" font-weight="bold" fill="#111">D</text>
<rect x="320.62" y="427" width="46.57" height="107.80" fill="#fdeed8"/>
<rect x="320.62" y="534.80" width="46.57" height="35.20" fill="#f3f6dc"/>
<rect x="367.20" y="534.80" width="136.43" height="35.20" fill="#e8f3f8"/>
<line x1="343.50" y1="446" x2="343.50" y2="570.00" stroke="#999" stroke-width="1" stroke-dasharray="1,2.2"/>
<line x1="320.62" y1="552.40" x2="503.62" y2="552.40" stroke="#888" stroke-width="1" stroke-dasharray="1,2.2"/>
<line x1="320.62" y1="428.70" x2="320.62" y2="570.00" stroke="#aaa" stroke-width="0.9"/>
<line x1="320.62" y1="570.00" x2="503.62" y2="570.00" stroke="#aaa" stroke-width="0.9"/>
<line x1="316.62" y1="570.00" x2="320.62" y2="570.00" stroke="#aaa" stroke-width="0.9"/>
<text x="314.62" y="572.50" font-size="7" text-anchor="end" fill="#222">–100</text>
<line x1="320.62" y1="570.00" x2="320.62" y2="574.00" stroke="#aaa" stroke-width="0.9"/>
<text x="320.62" y="583.00" font-size="7" text-anchor="middle" fill="#222">–100</text>
<line x1="316.62" y1="552.40" x2="320.62" y2="552.40" stroke="#aaa" stroke-width="0.9"/>
<text x="314.62" y="554.90" font-size="7" text-anchor="end" fill="#222">0</text>
<line x1="343.50" y1="570.00" x2="343.50" y2="574.00" stroke="#aaa" stroke-width="0.9"/>
<text x="343.50" y="583.00" font-size="7" text-anchor="middle" fill="#222">0</text>
<line x1="316.62" y1="534.80" x2="320.62" y2="534.80" stroke="#aaa" stroke-width="0.9"/>
<text x="314.62" y="537.30" font-size="7" text-anchor="end" fill="#222">100</text>
<line x1="366.38" y1="570.00" x2="366.38" y2="574.00" stroke="#aaa" stroke-width="0.9"/>
<text x="366.38" y="583.00" font-size="7" text-anchor="middle" fill="#222">100</text>
<line x1="316.62" y1="517.20" x2="320.62" y2="517.20" stroke="#aaa" stroke-width="0.9"/>
<text x="314.62" y="519.70" font-size="7" text-anchor="end" fill="#222">200</text>
<line x1="389.25" y1="570.00" x2="389.25" y2="574.00" stroke="#aaa" stroke-width="0.9"/>
<text x="389.25" y="583.00" font-size="7" text-anchor="middle" fill="#222">200</text>
<line x1="316.62" y1="499.60" x2="320.62" y2="499.60" stroke="#aaa" stroke-width="0.9"/>
<text x="314.62" y="502.10" font-size="7" text-anchor="end" fill="#222">300</text>
<line x1="412.12" y1="570.00" x2="412.12" y2="574.00" stroke="#aaa" stroke-width="0.9"/>
<text x="412.12" y="583.00" font-size="7" text-anchor="middle" fill="#222">300</text>
<line x1="316.62" y1="482.00" x2="320.62" y2="482.00" stroke="#aaa" stroke-width="0.9"/>
<text x="314.62" y="484.50" font-size="7" text-anchor="end" fill="#222">400</text>
<line x1="435.00" y1="570.00" x2="435.00" y2="574.00" stroke="#aaa" stroke-width="0.9"/>
<text x="435.00" y="583.00" font-size="7" text-anchor="middle" fill="#222">400</text>
<line x1="316.62" y1="464.40" x2="320.62" y2="464.40" stroke="#aaa" stroke-width="0.9"/>
<text x="314.62" y="466.90" font-size="7" text-anchor="end" fill="#222">500</text>
<line x1="457.88" y1="570.00" x2="457.88" y2="574.00" stroke="#aaa" stroke-width="0.9"/>
<text x="457.88" y="583.00" font-size="7" text-anchor="middle" fill="#222">500</text>
<line x1="316.62" y1="446.80" x2="320.62" y2="446.80" stroke="#aaa" stroke-width="0.9"/>
<text x="314.62" y="449.30" font-size="7" text-anchor="end" fill="#222">600</text>
<line x1="480.75" y1="570.00" x2="480.75" y2="574.00" stroke="#aaa" stroke-width="0.9"/>
<text x="480.75" y="583.00" font-size="7" text-anchor="middle" fill="#222">600</text>
<line x1="316.62" y1="429.20" x2="320.62" y2="429.20" stroke="#aaa" stroke-width="0.9"/>
<text x="314.62" y="431.70" font-size="7" text-anchor="end" fill="#222">700</text>
<line x1="503.62" y1="570.00" x2="503.62" y2="574.00" stroke="#aaa" stroke-width="0.9"/>
<text x="503.62" y="583.00" font-size="7" text-anchor="middle" fill="#222">700</text>
<text x="415.20" y="595.70" font-size="6.8" text-anchor="middle" font-weight="bold" fill="#111">Camizestrant</text>
<text x="415.90" y="604.20" font-size="6.72" text-anchor="middle" font-weight="bold" fill="#111">% change from baseline (mean)</text>
<text transform="translate(283.3,496.3) rotate(-90)" font-size="6.2" font-weight="bold" text-anchor="middle" fill="#111">Fulvestrant</text>
<text transform="translate(292.5,496.3) rotate(-90)" font-size="6.37" font-weight="bold" text-anchor="middle" fill="#111">% change from baseline (mean)</text>
<text x="342.00" y="432.50" font-size="4.8" text-anchor="start" fill="#f0a830">CAMI SENS</text>
<text x="342.00" y="437.50" font-size="4.8" text-anchor="start" fill="#f0a830">only 28%</text>
<text x="342.00" y="443.00" font-size="4.8" text-anchor="start" fill="#f0a830">total 56%</text>
<text x="323.00" y="537.80" font-size="4.4" text-anchor="start" fill="#c9d23a">CAMI and FULV SENS</text>
<text x="323.00" y="542.00" font-size="4.4" text-anchor="start" fill="#c9d23a">28%</text>
<text x="502.60" y="526.00" font-size="4.9" text-anchor="end" fill="#222">CAMI and FULV RES</text>
<text x="502.60" y="532.00" font-size="4.9" text-anchor="end" fill="#222">44%</text>
<text x="501.50" y="541.30" font-size="4.8" text-anchor="end" fill="#3b5a8c">FULV SENS</text>
<text x="501.50" y="546.30" font-size="4.8" text-anchor="end" fill="#3b5a8c">only 0%</text>
<circle cx="425.2" cy="442.5" r="3.0" fill="#9aa" stroke="#555" stroke-width="0.8"/>
<text x="428.00" y="444.30" font-size="5.0" text-anchor="start" fill="#333">ST3164BPBR</text>
<circle cx="460.0" cy="460.0" r="3.0" fill="#fff" stroke="#555" stroke-width="0.8"/>
<text x="462.70" y="461.80" font-size="5.0" text-anchor="start" fill="#333">ST3932</text>
<circle cx="376.0" cy="476.3" r="3.0" fill="#fff" stroke="#555" stroke-width="0.8"/>
<text x="379.00" y="478.10" font-size="5.0" text-anchor="start" fill="#333">ST3632</text>
<circle cx="447.1" cy="477.8" r="3.0" fill="#fff" stroke="#555" stroke-width="0.8"/>
<text x="436.60" y="474.10" font-size="5.0" text-anchor="start" fill="#333">ST4361B</text>
<circle cx="451.7" cy="481.5" r="3.0" fill="#fff" stroke="#555" stroke-width="0.8"/>
<text x="454.90" y="483.30" font-size="5.0" text-anchor="start" fill="#333">HBCx19</text>
<circle cx="440.0" cy="486.2" r="3.0" fill="#fff" stroke="#555" stroke-width="0.8"/>
<text x="427.40" y="494.70" font-size="5.0" text-anchor="start" fill="#333">BB6R160</text>
<circle cx="385.5" cy="489.2" r="3.0" fill="#fff" stroke="#555" stroke-width="0.8"/>
<text x="388.60" y="491.00" font-size="5.0" text-anchor="start" fill="#333">CTG2891</text>
<circle cx="392.3" cy="502.5" r="3.0" fill="#fff" stroke="#555" stroke-width="0.8"/>
<text x="395.30" y="504.30" font-size="5.0" text-anchor="start" fill="#333">HBCx3</text>
<circle cx="369.8" cy="526.3" r="3.0" fill="#fff" stroke="#555" stroke-width="0.8"/>
<text x="368.30" y="522.80" font-size="5.0" text-anchor="start" fill="#333">ST1799PBR</text>
<circle cx="380.9" cy="527.7" r="3.0" fill="#fff" stroke="#555" stroke-width="0.8"/>
<text x="383.70" y="527.30" font-size="5.0" text-anchor="start" fill="#333">CTG1124</text>
<circle cx="394.8" cy="531.4" r="3.0" fill="#fff" stroke="#555" stroke-width="0.8"/>
<text x="397.70" y="533.20" font-size="5.0" text-anchor="start" fill="#333">T272</text>
<circle cx="367.3" cy="538.8" r="3.0" fill="#fff" stroke="#555" stroke-width="0.8"/>
<text x="369.50" y="541.20" font-size="5.0" text-anchor="start" fill="#333">HBCx22</text>
<circle cx="353.5" cy="544.7" r="3.0" fill="#fff" stroke="#555" stroke-width="0.8"/>
<text x="355.90" y="545.10" font-size="5.0" text-anchor="start" fill="#333">HBCx34</text>
<circle cx="361.9" cy="548.4" r="3.0" fill="#fff" stroke="#555" stroke-width="0.8"/>
<text x="364.70" y="550.80" font-size="5.0" text-anchor="start" fill="#333">CTG1647</text>
<circle cx="346.1" cy="553.5" r="3.0" fill="#fff" stroke="#555" stroke-width="0.8"/>
<text x="347.90" y="557.80" font-size="5.0" text-anchor="start" fill="#333">HBXF079</text>
<circle cx="343.5" cy="560.7" r="3.0" fill="#fff" stroke="#555" stroke-width="0.8"/>
<text x="345.50" y="564.00" font-size="5.0" text-anchor="start" fill="#333">PDX191</text>
<circle cx="343.2" cy="460.7" r="3.3" fill="#e0106e"/>
<text x="346.10" y="462.80" font-size="5.0" text-anchor="start" fill="#333">CTG1211</text>
<circle cx="327.5" cy="471.3" r="3.3" fill="#2a1648"/>
<text x="330.30" y="473.00" font-size="5.0" text-anchor="start" fill="#333">ST941</text>
<circle cx="345.1" cy="487.9" r="3.3" fill="#2a1648"/>
<text x="339.70" y="484.60" font-size="5.0" text-anchor="start" fill="#333">ST941HIPBR</text>
<circle cx="350.8" cy="490.7" r="3.3" fill="#e0106e"/>
<text x="353.20" y="493.60" font-size="5.0" text-anchor="start" fill="#333">ST2535HI</text>
<circle cx="340.1" cy="494.5" r="3.3" fill="#2a1648"/>
<text x="324.80" y="502.00" font-size="5.0" text-anchor="start" fill="#333">PDX2447</text>
<circle cx="360.3" cy="508.4" r="3.3" fill="#e0106e"/>
<text x="363.40" y="510.20" font-size="5.0" text-anchor="start" fill="#333">CTG1260</text>
<circle cx="344.0" cy="528.1" r="3.3" fill="#2a1648"/>
<text x="333.50" y="524.70" font-size="5.0" text-anchor="start" fill="#333">PDX131</text>
<circle cx="350.7" cy="547.8" r="3.3" fill="#e0106e"/>
<text x="330.20" y="549.10" font-size="5.0" text-anchor="start" fill="#333">CTC174</text>
<rect x="320.0" y="564.5999999999999" width="5.4" height="5.4" fill="#f5a800"/>
<text x="326.20" y="568.60" font-size="5.0" text-anchor="start" fill="#333">CTG2432</text>
<circle cx="487.8" cy="425.8" r="2.4" fill="#fff" stroke="#444" stroke-width="0.8"/>
<text x="491.60" y="428.20" font-size="6.6" text-anchor="start" fill="#222">Wild type</text>
<circle cx="487.8" cy="433.75" r="2.2" fill="#e8b400"/>
<text x="491.60" y="436.15" font-size="6.6" text-anchor="start" fill="#222">E380Q</text>
<circle cx="487.8" cy="441.7" r="2.2" fill="#2a1648"/>
<text x="491.60" y="444.10" font-size="6.6" text-anchor="start" fill="#222">Y537S</text>
<circle cx="487.8" cy="450.1" r="2.2" fill="#e0106e"/>
<text x="491.60" y="452.50" font-size="6.6" text-anchor="start" fill="#222">D538G</text>
<circle cx="487.8" cy="458.75" r="2.2" fill="#9bc"/>
<text x="491.60" y="461.15" font-size="6.6" text-anchor="start" fill="#222">Fus</text>
</svg>
</body></html>
